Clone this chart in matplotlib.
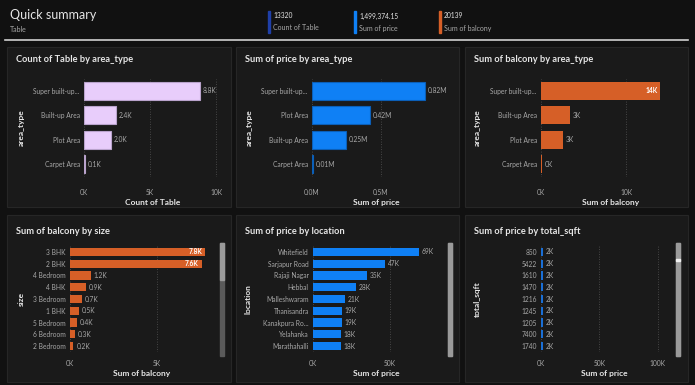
import matplotlib
matplotlib.use("Agg")
import matplotlib.pyplot as plt
from matplotlib.patches import Rectangle
from matplotlib.ticker import FuncFormatter

plt.rcParams['font.family'] = ['Lato', 'DejaVu Sans']

W, H = 695, 385
PAGE = '#111111'
PANEL = '#1a1a1a'
EDGE = '#262626'
TXT = '#e6e6e6'
TICK = '#a8a8a8'
LAV = '#e8cdfb'
BLUE = '#0f80f5'
ORANGE = '#d65f27'

# data
area_count_cats = ['Super built-up...', 'Built-up Area', 'Plot Area', 'Carpet Area']
area_count_vals = [8790, 2418, 2025, 87]
area_price_cats = ['Super built-up...', 'Plot Area', 'Built-up Area', 'Carpet Area']
area_price_vals = [820000, 420000, 250000, 10000]
area_balc_cats = ['Super built-up...', 'Built-up Area', 'Plot Area', 'Carpet Area']
area_balc_vals = [14050, 3400, 2550, 140]
size_cats = ['3 BHK', '2 BHK', '4 Bedroom', '4 BHK', '3 Bedroom', '1 BHK',
             '5 Bedroom', '6 Bedroom', '2 Bedroom']
size_vals = [7800, 7600, 1200, 900, 700, 500, 400, 300, 200]
loc_cats = ['Whitefield', 'Sarjapur Road', 'Rajaji Nagar', 'Hebbal', 'Malleshwaram',
            'Thanisandra', 'Kanakpura Ro...', 'Yelahanka', 'Marathahalli']
loc_vals = [69000, 47000, 35000, 28000, 21000, 19000, 19000, 18000, 18000]
sqft_cats = ['850', '5422', '1610', '1470', '1216', '1245', '1205', '7400', '1740']
sqft_vals = [2000, 2000, 2000, 2000, 2000, 2000, 2000, 2000, 2000]

kpi_vals = ['13320', '1,499,374.15', '20139']
kpi_names = ['Count of Table', 'Sum of price', 'Sum of balcony']
kpi_colors = ['#1f3fa8', BLUE, ORANGE]

fig = plt.figure(figsize=(W / 100, H / 100), dpi=100, facecolor=PAGE)


def fx(x):
    return x / W


def fy(y):
    return 1 - y / H


def ax_px(l, t, r, b):
    return fig.add_axes([fx(l), fy(b), fx(r) - fx(l), (b - t) / H])


def rect(x, y_top, w, h, **kw):
    fig.patches.append(Rectangle((fx(x), fy(y_top + h)), w / W, h / H,
                                 transform=fig.transFigure, **kw))


def kfmt(v):
    return '%dK' % round(v / 1000)


# header
fig.text(fx(10), fy(15), 'Quick summary', color=TXT, fontsize=9, va='center')
fig.text(fx(10), fy(29), 'Table', color=TICK, fontsize=5, va='center')
for i, (v, n, c) in enumerate(zip(kpi_vals, kpi_names, kpi_colors)):
    x0 = [268, 354, 439][i]
    rect(x0, 11, 1.5, 22, color=c, zorder=2)
    fig.text(fx(x0 + 5), fy(16), v, color=TXT, fontsize=4.8, va='center')
    fig.text(fx(x0 + 5), fy(28), n, color=TICK, fontsize=5, va='center')
fig.add_artist(plt.Line2D([fx(5), fx(688)], [fy(40), fy(40)], color='#d0d0d0', lw=1.2))

panels = [(7, 47, 231, 207), (236, 47, 459, 207), (465, 47, 688, 207),
          (7, 215, 231, 382), (236, 215, 459, 382), (465, 215, 688, 382)]
for (l, t, r, b) in panels:
    rect(l, t, r - l, b - t, facecolor=PANEL, edgecolor=EDGE, lw=0.8, zorder=-5)


def bar_panel(box, cats, vals, color, xmax, ticks, fmt, xlabel, ylabel,
              tfmt, inside=(), height=0.72, edge=None, ylab_x=21, xpad=9):
    l, t, r, b = box
    ax = ax_px(l, t, r, b)
    ax.set_facecolor('none')
    ax.barh(range(len(cats)), vals, height=height, color=color,
            edgecolor=edge if edge else color, lw=0.8 if edge else 0)
    ax.set_ylim(len(cats) - 0.5, -0.5)
    ax.set_xlim(0, xmax)
    ax.set_xticks(ticks)
    ax.xaxis.set_major_formatter(FuncFormatter(lambda v, p: tfmt(v)))
    ax.set_yticks(range(len(cats)))
    ax.set_yticklabels(cats)
    ax.tick_params(colors=TICK, labelsize=4.8, length=0, pad=3)
    ax.tick_params(axis='x', pad=xpad)
    for s in ax.spines.values():
        s.set_visible(False)
    ax.grid(axis='x', color='#555555', ls=(0, (1, 2)), lw=0.6)
    ax.set_axisbelow(True)
    for i, v in enumerate(vals):
        if i in inside:
            ax.text(v - xmax * 0.02, i, fmt(v), color='white', fontsize=4.8,
                    fontweight='bold', va='center', ha='right')
        else:
            ax.text(v + xmax * 0.02, i, fmt(v), color=TICK, fontsize=4.8,
                    va='center', ha='left')
    ax.set_xlabel(xlabel, color=TXT, fontsize=6, fontweight='bold', labelpad=2)
    fig.text(fx(ylab_x), fy((t + b) / 2), ylabel, color=TXT, fontsize=6,
             fontweight='bold', rotation=90, va='center', ha='center')
    return ax


titles_top = ['Count of Table by area_type', 'Sum of price by area_type',
              'Sum of balcony by area_type']
titles_bot = ['Sum of balcony by size', 'Sum of price by location', 'Sum of price by total_sqft']
for i, tt in enumerate(titles_top):
    fig.text(fx(panels[i][0] + 9), fy(59), tt, color=TXT, fontsize=6.7,
             fontweight='bold', va='center')
for i, tt in enumerate(titles_bot):
    fig.text(fx(panels[i + 3][0] + 9), fy(231), tt, color=TXT, fontsize=6.7,
             fontweight='bold', va='center')

# top row
bar_panel((84, 78.5, 222, 176.5), area_count_cats, area_count_vals, LAV, 10450,
          [0, 5000, 10000], lambda v: '%.1fK' % (v / 1000), 'Count of Table', 'area_type',
          kfmt, edge='#b9a3cc', ylab_x=21)

bar_panel((312, 78.5, 440, 176.5), area_price_cats, area_price_vals, BLUE, 0.93e6,
          [0, 0.5e6], lambda v: '%.2fM' % (v / 1e6), 'Sum of price', 'area_type',
          lambda v: '%.1fM' % (v / 1e6), edge='#0b5fb8', ylab_x=249)

bar_panel((541, 78.5, 680, 176.5), area_balc_cats, area_balc_vals, ORANGE, 16350,
          [0, 10000], kfmt, 'Sum of balcony', 'area_type', kfmt, inside=(0,),
          ylab_x=477)

# bottom row
bar_panel((70, 246, 214, 352), size_cats, size_vals, ORANGE, 8300,
          [0, 5000], lambda v: '%.1fK' % (v / 1000), 'Sum of balcony', 'size', kfmt,
          inside=(0, 1), height=0.7, ylab_x=21, xpad=6)

bar_panel((313, 246, 440, 352), loc_cats, loc_vals, BLUE, 82500,
          [0, 50000], kfmt, 'Sum of price', 'location', kfmt, height=0.7, ylab_x=248,
          xpad=6)

bar_panel((541, 246, 668, 352), sqft_cats, sqft_vals, '#1a6fd6', 109000,
          [0, 50000, 100000], kfmt, 'Sum of price', 'total_sqft', kfmt, height=0.7,
          ylab_x=477, xpad=6)

# scrollbars
for x0, hs, he in [(220, 243, 280), (448, 243, 356), (676, 243, 356)]:
    rect(x0, 243, 4, 113, color='#5a5a5a', zorder=3)
    rect(x0, hs, 4, he - hs, color='#9a9a9a', zorder=3)
rect(676, 259, 4, 2, color='#f0f0f0', zorder=4)

fig.savefig('out.png', dpi=100, facecolor=PAGE)
